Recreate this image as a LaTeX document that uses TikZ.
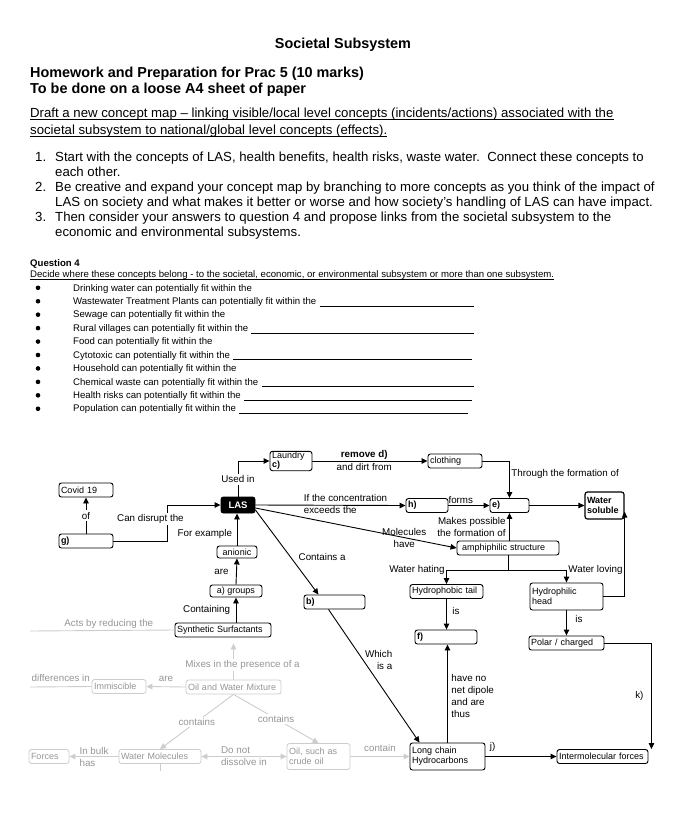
\documentclass[tikz,border=0pt]{standalone}
\usepackage{fontspec}
\setmainfont{Liberation Sans}
\usepackage{tikz}
\usetikzlibrary{arrows.meta}

\definecolor{cmapgrey}{RGB}{205,205,205}
\definecolor{cmaptext}{RGB}{150,150,150}

\begin{document}
\begin{tikzpicture}[x=1pt, y=-1pt,
    hd/.style={font=\fontsize{14.4}{16.5}\selectfont\bfseries, inner sep=0pt, anchor=base west},
    body/.style={font=\fontsize{13.2}{15}\selectfont, inner sep=0pt, anchor=base west},
    qtxt/.style={font=\fontsize{9.6}{13.44}\selectfont, inner sep=0pt, anchor=base west},
    cbox/.style={draw, rounded corners=2.5pt, line width=0.9pt, inner xsep=2pt,
        inner ysep=1pt, minimum height=14pt, align=left,
        font=\fontsize{9}{10}\selectfont},
    gbox/.style={cbox, draw=cmapgrey, text=cmaptext, line width=0.8pt},
    lbl/.style={font=\fontsize{9.8}{12}\selectfont, inner sep=1.5pt},
    glbl/.style={lbl, text=cmaptext},
    arr/.style={-{Triangle[length=6pt, width=5.5pt]}, line width=0.9pt},
    garr/.style={arr, draw=cmapgrey},
    gline/.style={draw=cmapgrey, line width=0.9pt}
  ]
  \fill[white] (0,0) rectangle (683,835);
  \useasboundingbox (0,0) rectangle (683,835);

  % header
  \node[hd, anchor=base] (title) at (343,48) {Societal Subsystem};
  \node[hd] (hw1) at (30,77) {Homework and Preparation for Prac 5 (10 marks)};
  \node[hd] (hw2) at (30,93) {To be done on a loose A4 sheet of paper};
  \node[body] (draft1) at (30,117.5) {Draft a new concept map – linking visible/local level concepts (incidents/actions) associated with the};
  \node[body] (draft2) at (30,134.5) {societal subsystem to national/global level concepts (effects).};
  \draw[line width=1pt] (draft1.base west) ++(0,1.8) -- ([yshift=-1.8pt]draft1.base east);
  \draw[line width=1pt] (draft2.base west) ++(0,1.8) -- ([yshift=-1.8pt]draft2.base east);

  \node[body] (n1) at (35,161) {1.};
  \node[body] (n2) at (35,191) {2.};
  \node[body] (n3) at (35,221) {3.};
  % base anchor of a multi-line node sits on its last line
  \node[body, align=left] (steps) at (55,236) {Start with the concepts of LAS, health benefits, health risks, waste water.\ \ Connect these concepts to\\
    each other.\\
    Be creative and expand your concept map by branching to more concepts as you think of the impact of\\
    LAS on society and what makes it better or worse and how society’s handling of LAS can have impact.\\
    Then consider your answers to question 4 and propose links from the societal subsystem to the\\
    economic and environmental subsystems.};

  % question 4
  \node[qtxt, font=\fontsize{9.6}{12}\selectfont\bfseries] (q4) at (30,266) {Question 4};
  \node[qtxt] (decide) at (30,277.5) {Decide where these concepts belong - to the societal, economic, or environmental subsystem or more than one subsystem.};
  \draw[line width=0.7pt] (decide.base west) ++(0,1.5) -- ([yshift=-1.5pt]decide.base east);
  \foreach \what/\xend [count=\i from 0] in {Drinking water/0, Wastewater Treatment Plants/474,
      Sewage/0, Rural villages/474, Food/0, Cytotoxic/472, Household/0,
      Chemical waste/474, Health risks/472, Population/468}{
    \pgfmathsetmacro\yq{291+13.44*\i}
    \fill (38,\yq-3.2) circle (2.3);
    \node[qtxt] (q\i) at (73,\yq) {\what\ can potentially fit within the};
    \ifnum\xend>0
      \draw[line width=0.6pt] (q\i.base east) ++(3,1.5) -- (\xend,\yq+1.5);
    \fi
  }

  % concept map
  \node[cbox, text width=38pt, inner ysep=1pt, font=\fontsize{9}{9}\selectfont] (laundry) at (291,461) {Laundry\\\textbf{c)}};
  \node[cbox, text width=50pt] (clothing) at (455,461) {clothing};
  \node[cbox, text width=50pt] (covid) at (86,490) {Covid 19};
  \node[cbox, fill=black, text=white, align=center, minimum width=34pt, minimum height=16pt,
    font=\fontsize{9.5}{11}\selectfont\bfseries] (las) at (238,505) {LAS};
  \node[cbox, text width=38pt] (h) at (427,505.5) {\textbf{h)}};
  \node[cbox, text width=35pt] (e) at (509.5,505.5) {\textbf{e)}};
  \node[cbox, text width=35pt, minimum height=27pt, line width=1.2pt,
    font=\fontsize{9}{10.5}\selectfont\bfseries] (ws) at (604.5,505.5) {Water\\soluble};
  \node[cbox, text width=50pt] (g) at (86,541) {\textbf{g)}};
  \node[cbox, align=center, minimum width=40pt, minimum height=12pt, inner ysep=0pt] (anionic) at (237,552) {anionic};
  \node[cbox, text width=98pt] (amph) at (508,548) {\hspace*{3pt}amphiphilic structure};
  \node[cbox, align=center, minimum width=52pt, minimum height=12pt, inner ysep=0pt] (groups) at (236,591) {a) groups};
  \node[cbox, text width=57pt] (b) at (334.5,602) {\textbf{b)}};
  \node[cbox, text width=69pt] (tail) at (446.5,591.5) {Hydrophobic tail};
  \node[cbox, text width=69pt, minimum height=27pt] (head) at (566.5,596.5) {Hydrophilic\\head};
  \node[cbox, text width=92pt] (synth) at (223,630) {Synthetic Surfactants};
  \node[cbox, text width=58pt] (f) at (446,637) {\textbf{f)}};
  \node[cbox, text width=71pt] (polar) at (566.5,643) {Polar / charged};
  \node[cbox, text width=71pt, minimum height=27pt] (longchain) at (447.5,756.5) {Long chain\\Hydrocarbons};
  \node[cbox, text width=87pt] (imf) at (602.5,756.5) {Intermolecular forces};

  \node[gbox, text width=50pt] (immisc) at (119,686.5) {Immiscible};
  \node[gbox, text width=91pt] (oilwater) at (233.5,687) {Oil and Water Mixture};
  \node[gbox, text width=36pt] (forces) at (49,756.5) {Forces};
  \node[gbox, text width=78pt] (watermol) at (160,756.5) {Water Molecules};
  \node[gbox, text width=59pt, minimum height=26pt] (oil) at (318.5,756.5) {Oil, such as\\crude oil};
  \coordinate (actsfrom) at (30,631);
  \coordinate (difffrom) at (30,687);
  \coordinate (wmdown) at (160,771);

  % black links
  \draw[arr] (las.north) |- (laundry.west) node[lbl, fill=white, pos=0.24] {Used in};
  \draw[arr] (laundry.east) -- (clothing.west)
    node[lbl, above, pos=0.45] {\bfseries remove d)}
    node[lbl, below, pos=0.45] {and dirt from};
  \draw[arr] (clothing.east) -| (e.north) node[lbl, right, pos=0.68] {Through the formation of};
  \draw[arr] (g.east) -- ++(54,0) |- (las.west) node[lbl, fill=white, pos=0.3, xshift=-17pt] {Can disrupt the};
  \draw[arr] (g.north) -- (covid.south) node[lbl, fill=white, midway] {of};
  \draw[arr] (anionic.north) -- (anionic.north |- las.south) node[lbl, left, pos=0.35, xshift=-3pt] {For example};
  \draw[arr] (groups.north) -- (anionic.south) node[lbl, left, midway, xshift=-6pt] {are};
  \draw[arr] (synth.north -| groups.north) -- (groups.south) node[lbl, left, midway, xshift=-4pt] {Containing};
  \draw[arr] (las.east) -- (h.west) node[lbl, align=left, pos=0.6, yshift=1.5pt] {If the concentration\\exceeds the};
  \draw[arr] (h.east) -- (e.west) node[lbl, above, pos=0.3] {forms};
  \draw[arr] (e.east) -- (ws.west);
  \draw[arr] ([yshift=-3pt]las.east) -- (amph.west) node[lbl, align=center, pos=0.74] {Molecules\\have};
  \draw[arr] (e.south |- amph.north) -- (e.south) node[lbl, left, align=right, midway, xshift=-2pt] {Makes possible\\the formation of};
  \draw[arr] (amph.south) -- ++(0,15) -| (tail.north) node[lbl, pos=0.5, anchor=east] {Water hating};
  \draw[arr] (amph.south) -- ++(0,15) -| (head.north) node[lbl, pos=0.5, anchor=west] {Water loving};
  \draw[arr] (head.east) -| ([yshift=8pt]ws.south east);
  \draw[arr] (tail.south) -- (tail.south |- f.north) node[lbl, right, pos=0.4, xshift=4pt] {is};
  \draw[arr] (head.south) -- (polar.north) node[lbl, right, pos=0.35, xshift=7pt] {is};
  \draw[arr] ([yshift=-5pt]las.east) -- ([xshift=-16pt]b.north) node[lbl, right, pos=0.56, xshift=6pt] {Contains a};
  \draw[arr] ([xshift=-6pt]b.south) -- ([xshift=-28pt]longchain.north) node[lbl, right, align=right, pos=0.38] {Which\\is a};
  \draw[arr] (longchain.north) -- (longchain.north |- f.south) node[lbl, right, align=left, pos=0.47, xshift=2pt] {have no\\net dipole\\and are\\thus};
  \draw[arr] (longchain.east) -- (imf.west) node[lbl, above, pos=0.1, yshift=3pt] {j)};
  \draw[arr] (polar.east) -| ([xshift=3pt]imf.north east) node[lbl, left, pos=0.75, xshift=-6pt] {k)};

  % grey links
  \draw[gline] (actsfrom) -- (synth.west) node[glbl, above, pos=0.545] {Acts by reducing the};
  \draw[garr] (oilwater.north) -- ([yshift=-6pt]oilwater.north |- synth.south) node[glbl, fill=white, pos=0.4, xshift=9pt] {Mixes in the presence of a};
  \draw[garr] (oilwater.west) -- (immisc.east) node[glbl, above, midway, yshift=3pt] {are};
  \draw[gline] (difffrom) -- (immisc.west) node[glbl, above, midway, yshift=3pt] {differences in};
  \draw[garr] (oilwater.south) -- (watermol.north) node[glbl, fill=white, midway] {contains};
  \draw[garr] (oilwater.south) -- (oil.north) node[glbl, fill=white, midway] {contains};
  \draw[garr, {Triangle[length=6pt, width=5.5pt]}-{Triangle[length=6pt, width=5.5pt]}] (watermol.east) -- (oil.west) node[glbl, align=left, midway] {Do not\\dissolve in};
  \draw[garr] (watermol.west) -- (forces.east) node[glbl, align=left, midway] {In bulk\\has};
  \draw[gline] (watermol.south) -- (wmdown);
  \draw[garr] (oil.east) -- (longchain.west) node[glbl, above, midway, yshift=3pt] {contain};
\end{tikzpicture}
\end{document}
